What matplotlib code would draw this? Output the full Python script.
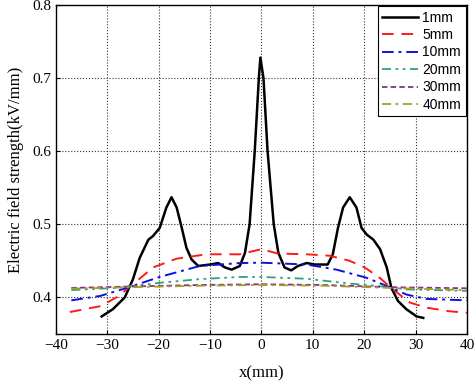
import matplotlib
matplotlib.use("Agg")
import matplotlib.pyplot as plt

# 1mm curve
x_1mm = [-31.1, -28.9, -26.6, -25.0, -23.7, -22.0, -21.1, -19.8, -18.5, -17.5, -16.5,
         -15.5, -14.6, -13.6, -12.3, -10.0, -8.4, -7.1, -5.8, -4.2, -3.2, -2.3, -1.3,
         -0.5, -0.2, 0.4, 1.2, 2.4, 3.3, 4.5, 5.8, 7.1, 8.8, 10.4, 12.9, 13.9, 14.9,
         15.9, 17.2, 18.5, 19.5, 20.5, 21.8, 23.1, 24.4, 25.3, 26.6, 28.2, 30.2, 31.5]
y_1mm = [0.374, 0.384, 0.400, 0.425, 0.454, 0.479, 0.484, 0.495, 0.523, 0.537, 0.523,
         0.495, 0.468, 0.452, 0.443, 0.445, 0.447, 0.441, 0.438, 0.443, 0.461, 0.500, 0.600,
         0.700, 0.728, 0.700, 0.600, 0.500, 0.461, 0.441, 0.437, 0.443, 0.447, 0.445, 0.445,
         0.459, 0.495, 0.523, 0.537, 0.523, 0.495, 0.486, 0.479, 0.466, 0.441, 0.413,
         0.395, 0.384, 0.374, 0.372]

# 5mm
x_5mm = [-37.3, -31.4, -28.2, -25.0, -21.1, -16.5, -10.7, -4.2, 0.0, 3.2, 8.8, 13.3,
         17.2, 20.1, 23.0, 25.6, 28.9, 32.1, 36.7, 40.0]
y_5mm = [0.380, 0.388, 0.400, 0.418, 0.441, 0.453, 0.459, 0.459, 0.466, 0.460, 0.459,
         0.457, 0.450, 0.441, 0.427, 0.411, 0.393, 0.386, 0.381, 0.379]

# 10mm
x_10mm = [-37.0, -31.4, -26.2, -19.8, -12.0, -4.2, 0.0, 8.8, 14.6, 20.4, 24.3, 28.2,
          32.1, 40.0]
y_10mm = [0.396, 0.402, 0.413, 0.428, 0.443, 0.447, 0.4475, 0.445, 0.438, 0.427, 0.416,
          0.404, 0.398, 0.396]

# 20mm
x_20mm = [-37.0, -28.2, -19.8, -12.0, -4.2, 0.0, 8.8, 17.2, 24.3, 28.2, 40.0]
y_20mm = [0.410, 0.413, 0.420, 0.425, 0.428, 0.428, 0.4255, 0.419, 0.4145, 0.411, 0.409]

# 30mm
x_30mm = [-37.0, -25.0, -12.0, 0.0, 12.0, 25.0, 40.0]
y_30mm = [0.413, 0.415, 0.417, 0.418, 0.417, 0.414, 0.4125]

# 40mm
x_40mm = [-37.0, -25.0, -12.0, 0.0, 12.0, 25.0, 40.0]
y_40mm = [0.412, 0.414, 0.416, 0.417, 0.416, 0.413, 0.410]

fig = plt.figure(figsize=(4.74, 3.83), dpi=100)
ax = fig.add_axes([0.118, 0.128, 0.867, 0.859])

ax.plot(x_1mm, y_1mm, color="black", lw=1.8, label="1mm")
ax.plot(x_5mm, y_5mm, color="#ff1a1a", lw=1.4, dashes=(6, 4), label="5mm")
ax.plot(x_10mm, y_10mm, color="#1010dd", lw=1.4, dashes=(6, 2.5, 1.5, 2.5), label="10mm")
ax.plot(x_20mm, y_20mm, color="#2ea37a", lw=1.3, dashes=(5, 2.5, 1.5, 2.5, 1.5, 2.5),
        label="20mm")
ax.plot(x_30mm, y_30mm, color="#8a2d8f", lw=1.3, dashes=(3, 1.8), label="30mm")
ax.plot(x_40mm, y_40mm, color="#a3a020", lw=1.3, dashes=(5, 2.5, 1.5, 2.5), label="40mm")

ax.set_xlim(-40, 40)
ax.set_ylim(0.35, 0.8)
ax.set_xticks(range(-40, 41, 10))
ax.set_yticks([0.4, 0.5, 0.6, 0.7, 0.8])
ax.grid(True, linestyle=":", color="#333333", lw=0.8)
ax.tick_params(direction="in", length=3, labelsize=11)
for lbl in ax.get_xticklabels() + ax.get_yticklabels():
    lbl.set_family("Liberation Serif")
for sp in ax.spines.values():
    sp.set_linewidth(1.0)

ax.set_xlabel("x(mm)", fontsize=12, family="Liberation Serif", labelpad=10)
ax.set_ylabel("Electric field strength(kV/mm)", fontsize=12, family="Liberation Serif",
              labelpad=6)

leg = ax.legend(loc="upper right", prop={"family": "Liberation Sans", "size": 10},
                handlelength=2.6, handletextpad=0.3, labelspacing=0.25,
                borderpad=0.3, borderaxespad=0.1, fancybox=False, framealpha=1)
leg.get_frame().set_edgecolor("black")
leg.get_frame().set_linewidth(0.8)

plt.savefig("out.png", dpi=100)
plt.close(fig)
